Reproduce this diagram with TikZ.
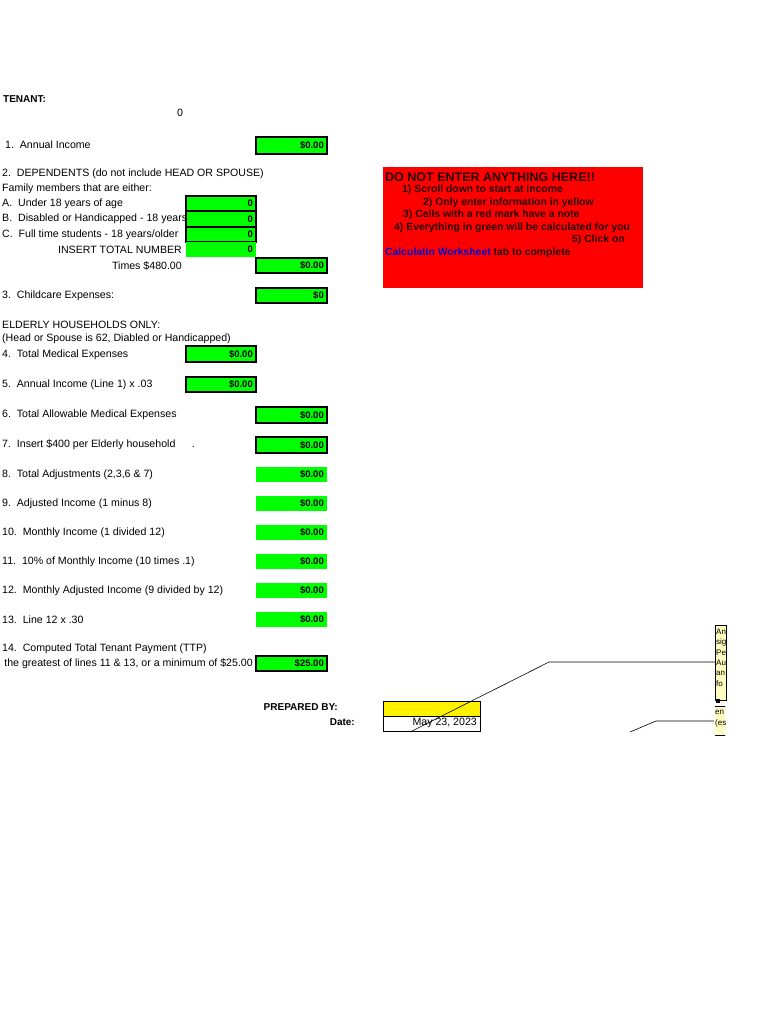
\documentclass[tikz,border=0pt]{standalone}
\usepackage{fontspec}
\setmainfont{Liberation Sans}
\begin{document}
\begin{tikzpicture}[x=1pt,y=-1pt,
  gb/.style={fill=green,draw=black,line width=1.4pt},
  gn/.style={fill=green},
  lab/.style={anchor=west,font=\fontsize{10.6}{11}\selectfont,inner sep=0pt},
  val/.style={anchor=east,font=\bfseries\fontsize{9.5}{10}\selectfont,inner sep=0pt},
  rt/.style={anchor=east,font=\fontsize{10.6}{11}\selectfont,inner sep=0pt},
  rl/.style={anchor=west,font=\bfseries\fontsize{10.4}{11}\selectfont,inner sep=0pt,text=black!85!red}]
\useasboundingbox (0,0) rectangle (768,1024);
\node[lab,font=\bfseries\fontsize{10}{11}\selectfont] (ten) at (3,99) {TENANT:};
\node[lab] (z) at (177,113) {0};
\newcommand{\gbox}[6]{\path[#1] (#2,#3) rectangle (#4,#5); \node[val] at (#4-3,{(#3+#5)/2}) {#6};}
\node[lab] (l1) at (5,145) {1.\ \ Annual Income};
\gbox{gb}{256}{137}{327}{154}{\$0.00}
\node[lab] (l2) at (2,174) {2.\ \ DEPENDENTS (do not include HEAD OR SPOUSE)};
\node[lab] (l2b) at (2,189) {Family members that are either:};
\node[lab] (la) at (2,204) {A.\ \ Under 18 years of age};
\node[lab] (lb) at (2,219) {B.\ \ Disabled or Handicapped - 18 years};
\node[lab] (lc) at (2,235) {C.\ \ Full time students - 18 years/older};
\gbox{gb}{186}{196}{256}{211}{0}
\gbox{gb}{186}{211}{256}{227}{0}
\gbox{gb}{186}{227}{256}{242}{0}
\gbox{gn}{186}{242}{256}{257}{0}
\node[rt] (ins) at (182,250) {INSERT TOTAL NUMBER};
\node[rt] (tim) at (182,266) {Times \$480.00};
\gbox{gb}{256}{258}{327}{273}{\$0.00}
\node[lab] (l3) at (2,296) {3.\ \ Childcare Expenses:};
\gbox{gb}{256}{288}{327}{303}{\$0}
\node[lab] (el) at (2,325) {ELDERLY HOUSEHOLDS ONLY:};
\node[lab] (el2) at (2,339) {(Head or Spouse is 62, Diabled or Handicapped)};
\node[lab] (l4) at (2,355) {4.\ \ Total Medical Expenses};
\gbox{gb}{186}{346}{256}{362}{\$0.00}
\node[lab] (l5) at (2,385) {5.\ \ Annual Income (Line 1) x .03};
\gbox{gb}{186}{377}{256}{392}{\$0.00}
\node[lab] (l6) at (2,415) {6.\ \ Total Allowable Medical Expenses};
\gbox{gb}{256}{407}{327}{423}{\$0.00}
\node[lab] (l7) at (2,445) {7.\ \ Insert \$400 per Elderly household\quad\ \ .};
\gbox{gb}{256}{437}{327}{453}{\$0.00}
\node[lab] (l8) at (2,475) {8.\ \ Total Adjustments (2,3,6 \& 7)};
\gbox{gn}{256}{467}{327}{482}{\$0.00}
\node[lab] (l9) at (2,504) {9.\ \ Adjusted Income (1 minus 8)};
\gbox{gn}{256}{496}{327}{511}{\$0.00}
\node[lab] (l10) at (2,533) {10.\ \ Monthly Income (1 divided 12)};
\gbox{gn}{256}{525}{327}{540}{\$0.00}
\node[lab] (l11) at (2,562) {11.\ \ 10\% of Monthly Income (10 times .1)};
\gbox{gn}{256}{554}{327}{569}{\$0.00}
\node[lab] (l12) at (2,591) {12.\ \ Monthly Adjusted Income (9 divided by 12)};
\gbox{gn}{256}{583}{327}{598}{\$0.00}
\node[lab] (l13) at (2,620) {13.\ \ Line 12 x .30};
\gbox{gn}{256}{612}{327}{627}{\$0.00}
\node[lab] (l14) at (2,649) {14.\ \ Computed Total Tenant Payment (TTP)};
\node[rt] (l14b) at (253,664) {the greatest of lines 11 \& 13, or a minimum of \$25.00};
\gbox{gb}{256}{656}{327}{671}{\$25.00}
% red box
\path[fill=red] (383,167) rectangle (643,288);
\node[rl,font=\bfseries\fontsize{12.5}{13}\selectfont] (r0) at (385,177) {DO NOT ENTER ANYTHING HERE!!};
\node[rl] (r1) at (402,190) {1) Scroll down to start at income};
\node[rl] (r2) at (423,203) {2) Only enter information in yellow};
\node[rl] (r3) at (403,215) {3) Cells with a red mark have a note};
\node[rl] (r4) at (394,228) {4) Everything in green will be calculated for you};
\node[rl] (r5) at (572,240) {5) Click on};
\node[rl] (r6) at (385,253) {\textcolor{blue!80!black}{Calculatin Worksheet} tab to complete};
% prepared
\node[rt,font=\bfseries\fontsize{10}{11}\selectfont] (pb) at (338,707) {PREPARED BY:};
\node[rt,font=\bfseries\fontsize{10}{11}\selectfont] (dt) at (355,722) {Date:};
\path[fill=yellow,draw=black,line width=0.7pt] (383,701) rectangle (480,716);
\draw[line width=0.7pt] (383,716) rectangle (480,731);
\node[rt] (dv) at (477,723) {May 23, 2023};
% notes
\path[fill=yellow!25,draw=black,line width=0.6pt] (715,625) rectangle (726,700);
\fill (716,699) rectangle (720,703);
\begin{scope}
\clip (715,620) rectangle (725,740);
\foreach \t [count=\i] in {An,sig,Pe,Au,an,fo}
  \node[lab,font=\fontsize{8}{9}\selectfont] at (716,{621+\i*10.5}) {\t};
\path[fill=yellow!25,draw=black,line width=0.6pt] (714,706) rectangle (728,735);
\node[lab,font=\fontsize{8}{9}\selectfont] at (715,712) {en};
\node[lab,font=\fontsize{8}{9}\selectfont] at (715,723) {(es};
\end{scope}
\coordinate (n1) at (715,662);
\coordinate (n2) at (714,721);
\draw[line width=0.6pt] (410,732) -- (549,662) -- (n1);
\draw[line width=0.6pt] (630,732) -- (656,721) -- (n2);
\end{tikzpicture}
\end{document}
